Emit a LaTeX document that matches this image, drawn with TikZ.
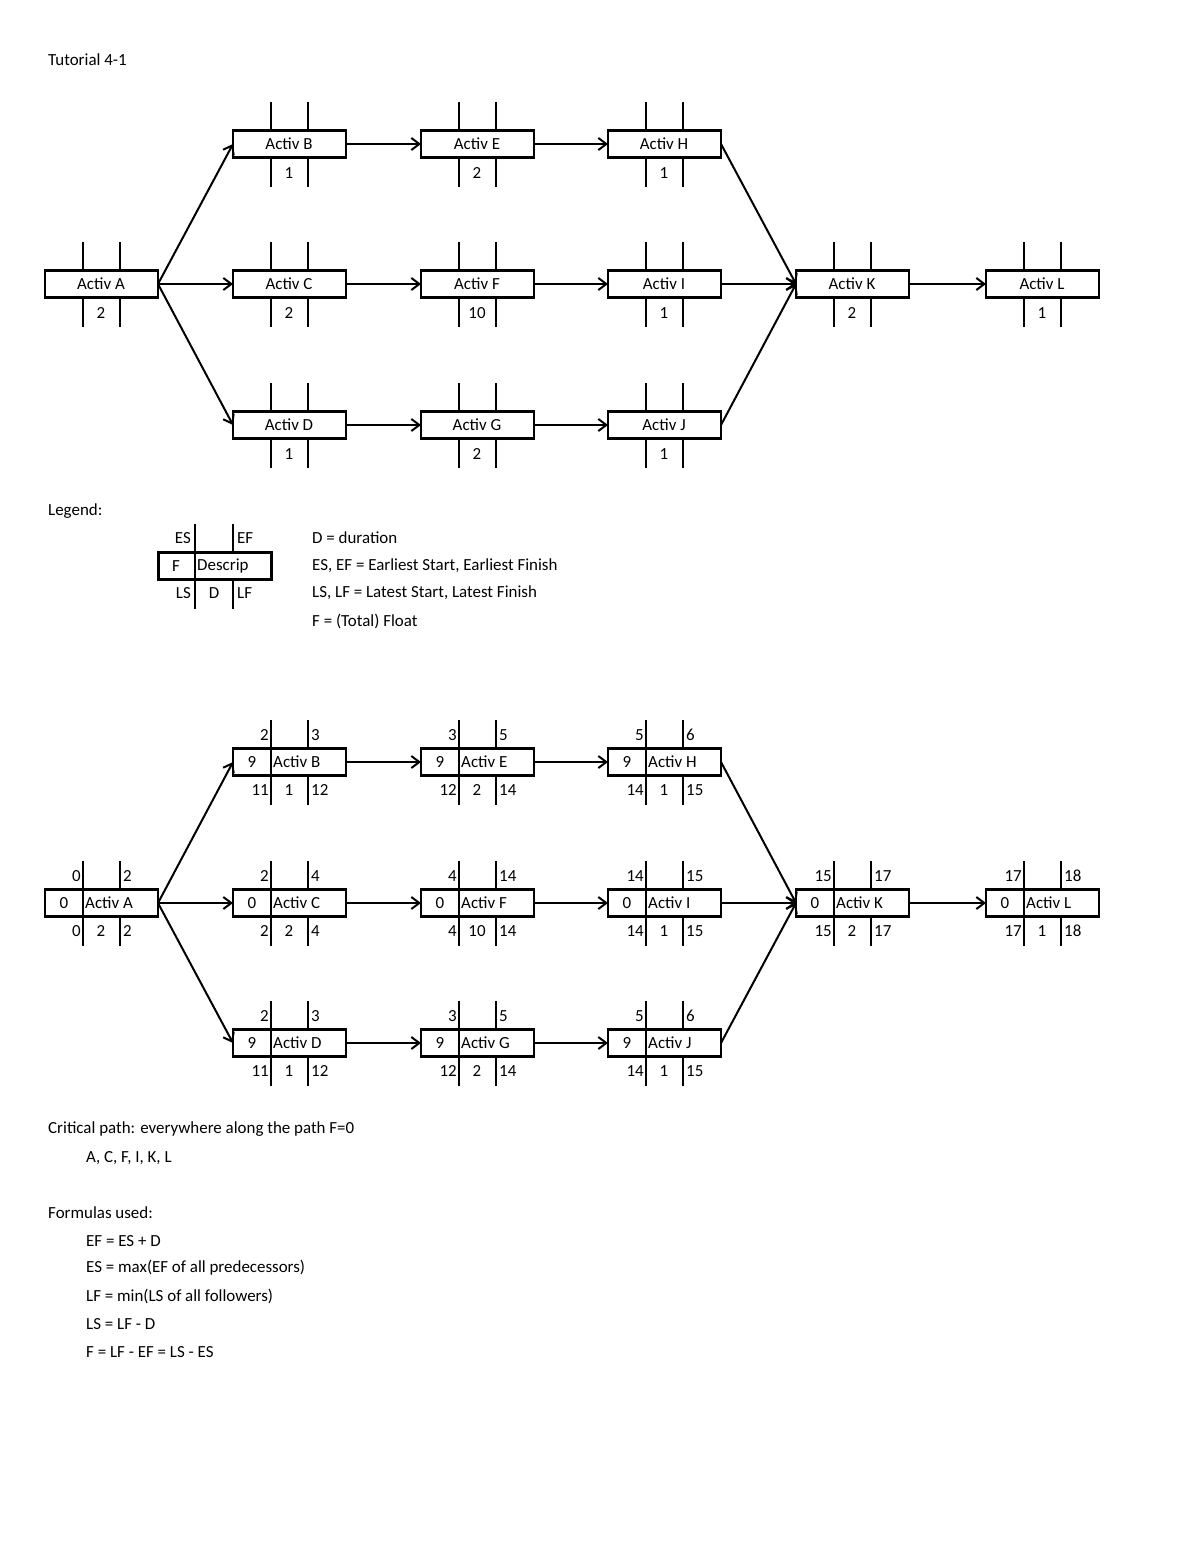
\documentclass[tikz,border=0pt]{standalone}
\usepackage{fontspec}
\setmainfont{Carlito}
\usetikzlibrary{arrows.meta}
\begin{document}
\begin{tikzpicture}[x=1bp,y=-1bp,
  box/.style={draw,line width=2.6bp,minimum width=113bp,minimum height=27bp,inner sep=0,outer sep=0,anchor=west},
  vl/.style={line width=2.6bp},
  arr/.style={line width=2bp,-{Straight Barb[length=8bp,width=12bp,line width=2bp]}},
  lbl/.style={font=\fontsize{17}{19}\selectfont,inner sep=1bp},
  txt/.style={font=\fontsize{17}{19}\selectfont,anchor=west,inner sep=0}]
\useasboundingbox (0,0) rectangle (1200,1553);
\newcommand{\topact}[5]{% name x y title dur
  \node[box] (#1) at (#2,#3) {};
  \draw[vl] (#2+38,#3-42)--(#2+38,#3-13) (#2+75,#3-42)--(#2+75,#3-13)
            (#2+38,#3+13)--(#2+38,#3+43) (#2+75,#3+13)--(#2+75,#3+43);
  \node[lbl] (#1t) at (#2+56,#3) {#4};
  \node[lbl] (#1d) at (#2+56,#3+29) {#5};}
\newcommand{\botact}[9]{% name x y title F ES EF LS D
  \node[box] (#1) at (#2,#3) {};
  \draw[vl] (#2+38,#3-42)--(#2+38,#3+43) (#2+75,#3-42)--(#2+75,#3-13) (#2+75,#3+13)--(#2+75,#3+43);
  \node[lbl,anchor=west] (#1t) at (#2+39,#3) {#4};
  \node[lbl] (#1f) at (#2+19,#3) {#5};
  \node[lbl,anchor=east] (#1es) at (#2+37,#3-27) {#6};
  \node[lbl,anchor=west] (#1ef) at (#2+77,#3-27) {#7};
  \node[lbl,anchor=east] (#1ls) at (#2+37,#3+28) {#8};
  \node[lbl] (#1dd) at (#2+56,#3+28) {#9};}
\newcommand{\lf}[4]{\node[lbl,anchor=west] (#1lf) at (#2+77,#3+28) {#4};}
\node[txt] (title) at (48,60) {Tutorial 4-1};
% top network
\topact{A}{45}{284}{Activ A}{2}
\topact{B}{233}{144}{Activ B}{1}
\topact{C}{233}{284}{Activ C}{2}
\topact{D}{233}{425}{Activ D}{1}
\topact{E}{421}{144}{Activ E}{2}
\topact{F}{421}{284}{Activ F}{10}
\topact{G}{421}{425}{Activ G}{2}
\topact{H}{608}{144}{Activ H}{1}
\topact{I}{608}{284}{Activ I}{1}
\topact{J}{608}{425}{Activ J}{1}
\topact{K}{796}{284}{Activ K}{2}
\topact{L}{986}{284}{Activ L}{1}
\foreach \a/\b in {A/B,A/C,A/D,B/E,C/F,D/G,E/H,F/I,G/J,H/K,I/K,J/K,K/L}
  \draw[arr] (\a.east)--(\b.west);
% legend
\node[txt] (leg) at (48,511) {Legend:};
\node[draw,line width=2.6bp,minimum width=113bp,minimum height=27bp,inner sep=0,anchor=west] (lg) at (157,566) {};
\draw[vl] (195,524)--(195,609) (233,524)--(233,553) (233,579)--(233,609);
\node[lbl,anchor=east] (lges) at (192,538) {ES};
\node[lbl,anchor=west] (lgef) at (236,538) {EF};
\node[lbl] (lgf) at (176,566) {F};
\node[lbl,anchor=west] (lgd) at (196,566) {Descrip};
\node[lbl,anchor=east] (lgls) at (192,593) {LS};
\node[lbl] (lgdd) at (214,593) {D};
\node[lbl,anchor=west] (lglf) at (236,593) {LF};
\node[txt] (l1) at (312,538) {D = duration};
\node[txt] (l2) at (312,566) {ES, EF = Earliest Start, Earliest Finish};
\node[txt] (l3) at (312,593) {LS, LF = Latest Start, Latest Finish};
\node[txt] (l4) at (312,621) {F = (Total) Float};
% bottom network
\botact{a}{45}{903}{Activ A}{0}{0}{2}{0}{2}\lf{a}{45}{903}{2}
\botact{b}{233}{762}{Activ B}{9}{2}{3}{11}{1}\lf{b}{233}{762}{12}
\botact{c}{233}{903}{Activ C}{0}{2}{4}{2}{2}\lf{c}{233}{903}{4}
\botact{d}{233}{1043}{Activ D}{9}{2}{3}{11}{1}\lf{d}{233}{1043}{12}
\botact{e}{421}{762}{Activ E}{9}{3}{5}{12}{2}\lf{e}{421}{762}{14}
\botact{f}{421}{903}{Activ F}{0}{4}{14}{4}{10}\lf{f}{421}{903}{14}
\botact{g}{421}{1043}{Activ G}{9}{3}{5}{12}{2}\lf{g}{421}{1043}{14}
\botact{h}{608}{762}{Activ H}{9}{5}{6}{14}{1}\lf{h}{608}{762}{15}
\botact{i}{608}{903}{Activ I}{0}{14}{15}{14}{1}\lf{i}{608}{903}{15}
\botact{j}{608}{1043}{Activ J}{9}{5}{6}{14}{1}\lf{j}{608}{1043}{15}
\botact{k}{796}{903}{Activ K}{0}{15}{17}{15}{2}\lf{k}{796}{903}{17}
\botact{l}{986}{903}{Activ L}{0}{17}{18}{17}{1}\lf{l}{986}{903}{18}
\foreach \a/\b in {a/b,a/c,a/d,b/e,c/f,d/g,e/h,f/i,g/j,h/k,i/k,j/k,k/l}
  \draw[arr] (\a.east)--(\b.west);
% notes
\node[txt] (cp) at (48,1129) {Critical path: everywhere along the path F=0};
\node[txt] (cp2) at (86,1158) {A, C, F, I, K, L};
\node[txt] (fu) at (48,1213) {Formulas used:};
\node[txt] (f1) at (86,1241) {EF = ES + D};
\node[txt] (f2) at (86,1268) {ES = max(EF of all predecessors)};
\node[txt] (f3) at (86,1296) {LF = min(LS of all followers)};
\node[txt] (f4) at (86,1324) {LS = LF - D};
\node[txt] (f5) at (86,1352) {F = LF - EF = LS - ES};
\end{tikzpicture}
\end{document}
